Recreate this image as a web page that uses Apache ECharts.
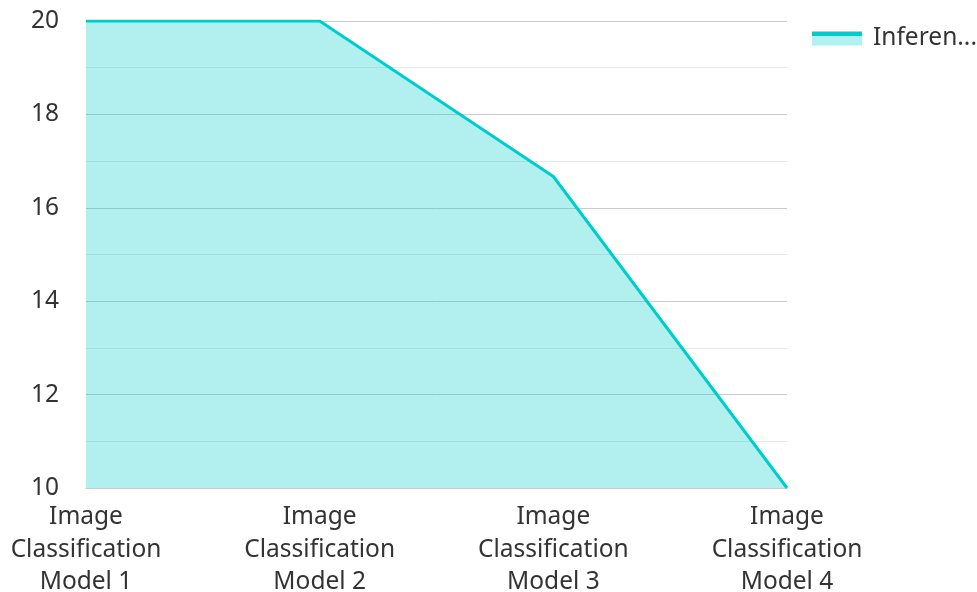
<!DOCTYPE html>
<html>
<head>
<meta charset="utf-8">
<script src="https://cdn.jsdelivr.net/npm/echarts@6/dist/echarts.min.js"></script>
<style>
  html, body { margin: 0; padding: 0; background: #fff; }
  #chart { width: 977px; height: 592px; }
</style>
</head>
<body>
<div id="chart"></div>
<script>
// Inference time per image classification model
const categories = [
  'Image\nClassification\nModel 1',
  'Image\nClassification\nModel 2',
  'Image\nClassification\nModel 3',
  'Image\nClassification\nModel 4'
];
const seriesName = 'Inference Time (ms)';
const inferenceValues = [20, 20, 16.67, 10];
const yTicks = { min: 10, max: 20, interval: 2 };

const lineColor = '#00cccc';
const fillColor = '#b3f0f0';

const chart = echarts.init(document.getElementById('chart'));
const font = '"Noto Sans", "Open Sans", sans-serif';
const fontSize = 24.5;

chart.setOption({
  animation: false,
  textStyle: { fontFamily: font },
  grid: {
    left: 86, right: 190, top: 21, bottom: 104,
    containLabel: false, outerBoundsMode: 'none'
  },
  legend: {
    left: 812,
    top: 26,
    padding: 0,
    orient: 'vertical',
    itemWidth: 50,
    itemHeight: 14,
    itemGap: 10,
    icon: 'rect',
    textStyle: {
      fontFamily: font, fontSize: fontSize, color: '#333', lineHeight: 24,
      padding: [0, 0, 0, 6],
      width: 112, overflow: 'truncate', ellipsis: '...'
    },
    data: [{
      name: seriesName,
      itemStyle: {
        // line on top, filled area beneath
        color: new echarts.graphic.LinearGradient(0, 0, 0, 1, [
          { offset: 0, color: lineColor },
          { offset: 0.29, color: lineColor },
          { offset: 0.29, color: fillColor },
          { offset: 1, color: fillColor }
        ])
      }
    }]
  },
  xAxis: {
    type: 'category',
    data: categories,
    boundaryGap: false,
    axisLine: { show: true, lineStyle: { color: '#cccccc', width: 1 } },
    axisTick: { show: false },
    axisLabel: {
      color: '#333', fontSize: fontSize, fontFamily: font,
      lineHeight: 32.5, margin: 13, interval: 0
    },
    splitLine: { show: false }
  },
  yAxis: {
    type: 'value',
    min: yTicks.min,
    max: yTicks.max,
    interval: yTicks.interval,
    axisLine: { show: false },
    axisTick: { show: false },
    axisLabel: { color: '#333', fontSize: fontSize, fontFamily: font, margin: 27 },
    splitLine: { show: true, lineStyle: { color: '#cccccc', width: 1 } },
    minorTick: { show: false, splitNumber: 2 },
    minorSplitLine: { show: true, lineStyle: { color: '#e8e8e8', width: 1 } }
  },
  series: [{
    name: seriesName,
    type: 'line',
    data: inferenceValues,
    symbol: 'none',
    lineStyle: { color: lineColor, width: 3 },
    itemStyle: { color: lineColor },
    areaStyle: { color: lineColor, opacity: 0.3 }
  }]
});
</script>
</body>
</html>
